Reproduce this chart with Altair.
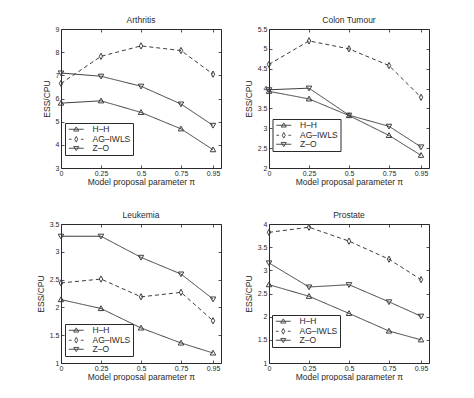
import altair as alt
import pandas as pd

x_vals = [0, 0.25, 0.5, 0.75, 0.95]
x_ticks = [0, 0.25, 0.5, 0.75, 0.95]
series = ["H–H", "AG–IWLS", "Z–O"]

panel_names = ["Arthritis", "Colon Tumour", "Leukemia", "Prostate"]

arth_hh = [5.80, 5.90, 5.40, 4.69, 3.79]
arth_ag = [6.65, 7.82, 8.27, 8.07, 7.05]
arth_zo = [7.10, 6.96, 6.53, 5.76, 4.84]

colon_hh = [3.93, 3.74, 3.32, 2.82, 2.32]
colon_ag = [4.61, 5.20, 5.00, 4.58, 3.78]
colon_zo = [3.97, 4.01, 3.33, 3.05, 2.53]

leuk_hh = [2.14, 1.98, 1.63, 1.36, 1.18]
leuk_ag = [2.44, 2.51, 2.19, 2.27, 1.76]
leuk_zo = [3.28, 3.28, 2.90, 2.60, 2.15]

pros_hh = [2.69, 2.44, 2.07, 1.69, 1.50]
pros_ag = [3.82, 3.93, 3.63, 3.24, 2.80]
pros_zo = [3.16, 2.64, 2.69, 2.32, 2.01]

y_domains = [[3, 9], [2, 5.5], [1, 3.5], [1, 4]]
y_ticks = [
    [3, 4, 5, 6, 7, 8, 9],
    [2, 2.5, 3, 3.5, 4, 4.5, 5, 5.5],
    [1, 1.5, 2, 2.5, 3, 3.5],
    [1, 1.5, 2, 2.5, 3, 3.5, 4],
]
legend_pos = [(4, 94), (3.5, 90), (4, 100), (3, 91)]

INK = "#2a2a2a"
LINE = "#3c3c3c"
FONT = "Liberation Sans"

marker_paths = [
    "M0,-1L1,0.75L-1,0.75Z",
    "M0,-1.15L0.62,0L0,1.15L-0.62,0Z",
    "M0,1L1,-0.75L-1,-0.75Z",
]
legend_paths = [
    "M-2.5,0H2.5M0,-0.8L0.85,0.6L-0.85,0.6Z",
    "M-2.45,0H-1.55M1.55,0H2.45M0,-0.95L0.5,0L0,0.95L-0.5,0Z",
    "M-2.5,0H2.5M0,0.8L0.85,-0.6L-0.85,-0.6Z",
]


def panel(name, hh, ag, zo, ydom, yt, lpos):
    df = pd.DataFrame({
        "pi": x_vals * 3,
        "ess": hh + ag + zo,
        "series": [s for s in series for _ in x_vals],
    })
    base = alt.Chart(df)
    xscale = alt.Scale(domain=[0, 1], nice=False, zero=False)
    yscale = alt.Scale(domain=ydom, nice=False, zero=False)

    x_main = alt.X("pi:Q", scale=xscale, axis=alt.Axis(
        values=x_ticks, format=".2~f", title="Model proposal parameter π",
        labelPadding=1, titlePadding=1, labelFlush=False))
    y_main = alt.Y("ess:Q", scale=yscale, axis=alt.Axis(
        values=yt, format=".1~f", title="ESS/CPU",
        labelPadding=2, titlePadding=4))

    lines = base.mark_line(color=LINE, strokeWidth=1).encode(
        x=x_main, y=y_main,
        strokeDash=alt.StrokeDash("series:N", scale=alt.Scale(
            domain=series, range=[[1, 0], [4, 3], [1, 0]]), legend=None),
    )

    layers = [lines]
    for i, s in enumerate(series):
        if i == 0:
            xe = alt.X("pi:Q", scale=xscale, axis=alt.Axis(
                orient="top", values=x_ticks, labels=False, title=None))
            ye = alt.Y("ess:Q", scale=yscale, axis=alt.Axis(
                orient="right", values=yt, labels=False, title=None))
        else:
            xe = alt.X("pi:Q", scale=xscale, axis=None)
            ye = alt.Y("ess:Q", scale=yscale, axis=None)
        pts = base.transform_filter(alt.datum.series == s).mark_point(
            shape=marker_paths[i], size=30, filled=False, color=LINE,
            strokeWidth=1, opacity=1).encode(x=xe, y=ye)
        layers.append(pts)

    lg = alt.Legend(title=None, orient="none", legendX=lpos[0], legendY=lpos[1],
                    symbolSize=36, symbolStrokeWidth=0.9, symbolStrokeColor=LINE,
                    symbolFillColor="transparent", symbolOpacity=1, symbolOffset=5,
                    labelFontSize=8.5, labelFont=FONT, labelColor=INK,
                    labelOffset=12, padding=2, rowPadding=0,
                    strokeColor=INK, fillColor="white", cornerRadius=0)
    leg = base.mark_point(
        filled=False, color=LINE, strokeWidth=1, opacity=0).encode(
        x=alt.X("pi:Q", scale=xscale, axis=None),
        y=alt.Y("ess:Q", scale=yscale, axis=None),
        shape=alt.Shape("series:N", scale=alt.Scale(domain=series, range=legend_paths),
                        legend=lg))
    layers.append(leg)

    return alt.layer(*layers).resolve_axis(x="independent", y="independent").properties(
        width=160, height=139,
        title=alt.TitleParams(name, fontSize=8.5, fontWeight="normal", font=FONT,
                              color=INK, offset=1, frame="group", anchor="middle"))


data_sets = [
    (arth_hh, arth_ag, arth_zo),
    (colon_hh, colon_ag, colon_zo),
    (leuk_hh, leuk_ag, leuk_zo),
    (pros_hh, pros_ag, pros_zo),
]

panels = [panel(panel_names[k], *data_sets[k], y_domains[k], y_ticks[k], legend_pos[k])
          for k in range(4)]

chart = alt.concat(*panels, columns=2, spacing={"row": 56, "column": 48}, bounds="flush").resolve_scale(
    shape="independent").resolve_legend(shape="independent").properties(
    padding={"left": 27, "top": 7, "right": 0, "bottom": 0}
).configure_view(stroke=INK, strokeWidth=1).configure_axis(
    domain=False, grid=False, tickSize=3, offset=-3, tickColor=INK, tickWidth=0.8,
    labelFont=FONT, titleFont=FONT, labelFontSize=7, titleFontSize=8.5,
    titleFontWeight="normal", labelColor=INK, titleColor=INK)

chart.save("out.html", embed_options={"renderer": "svg", "actions": False})
